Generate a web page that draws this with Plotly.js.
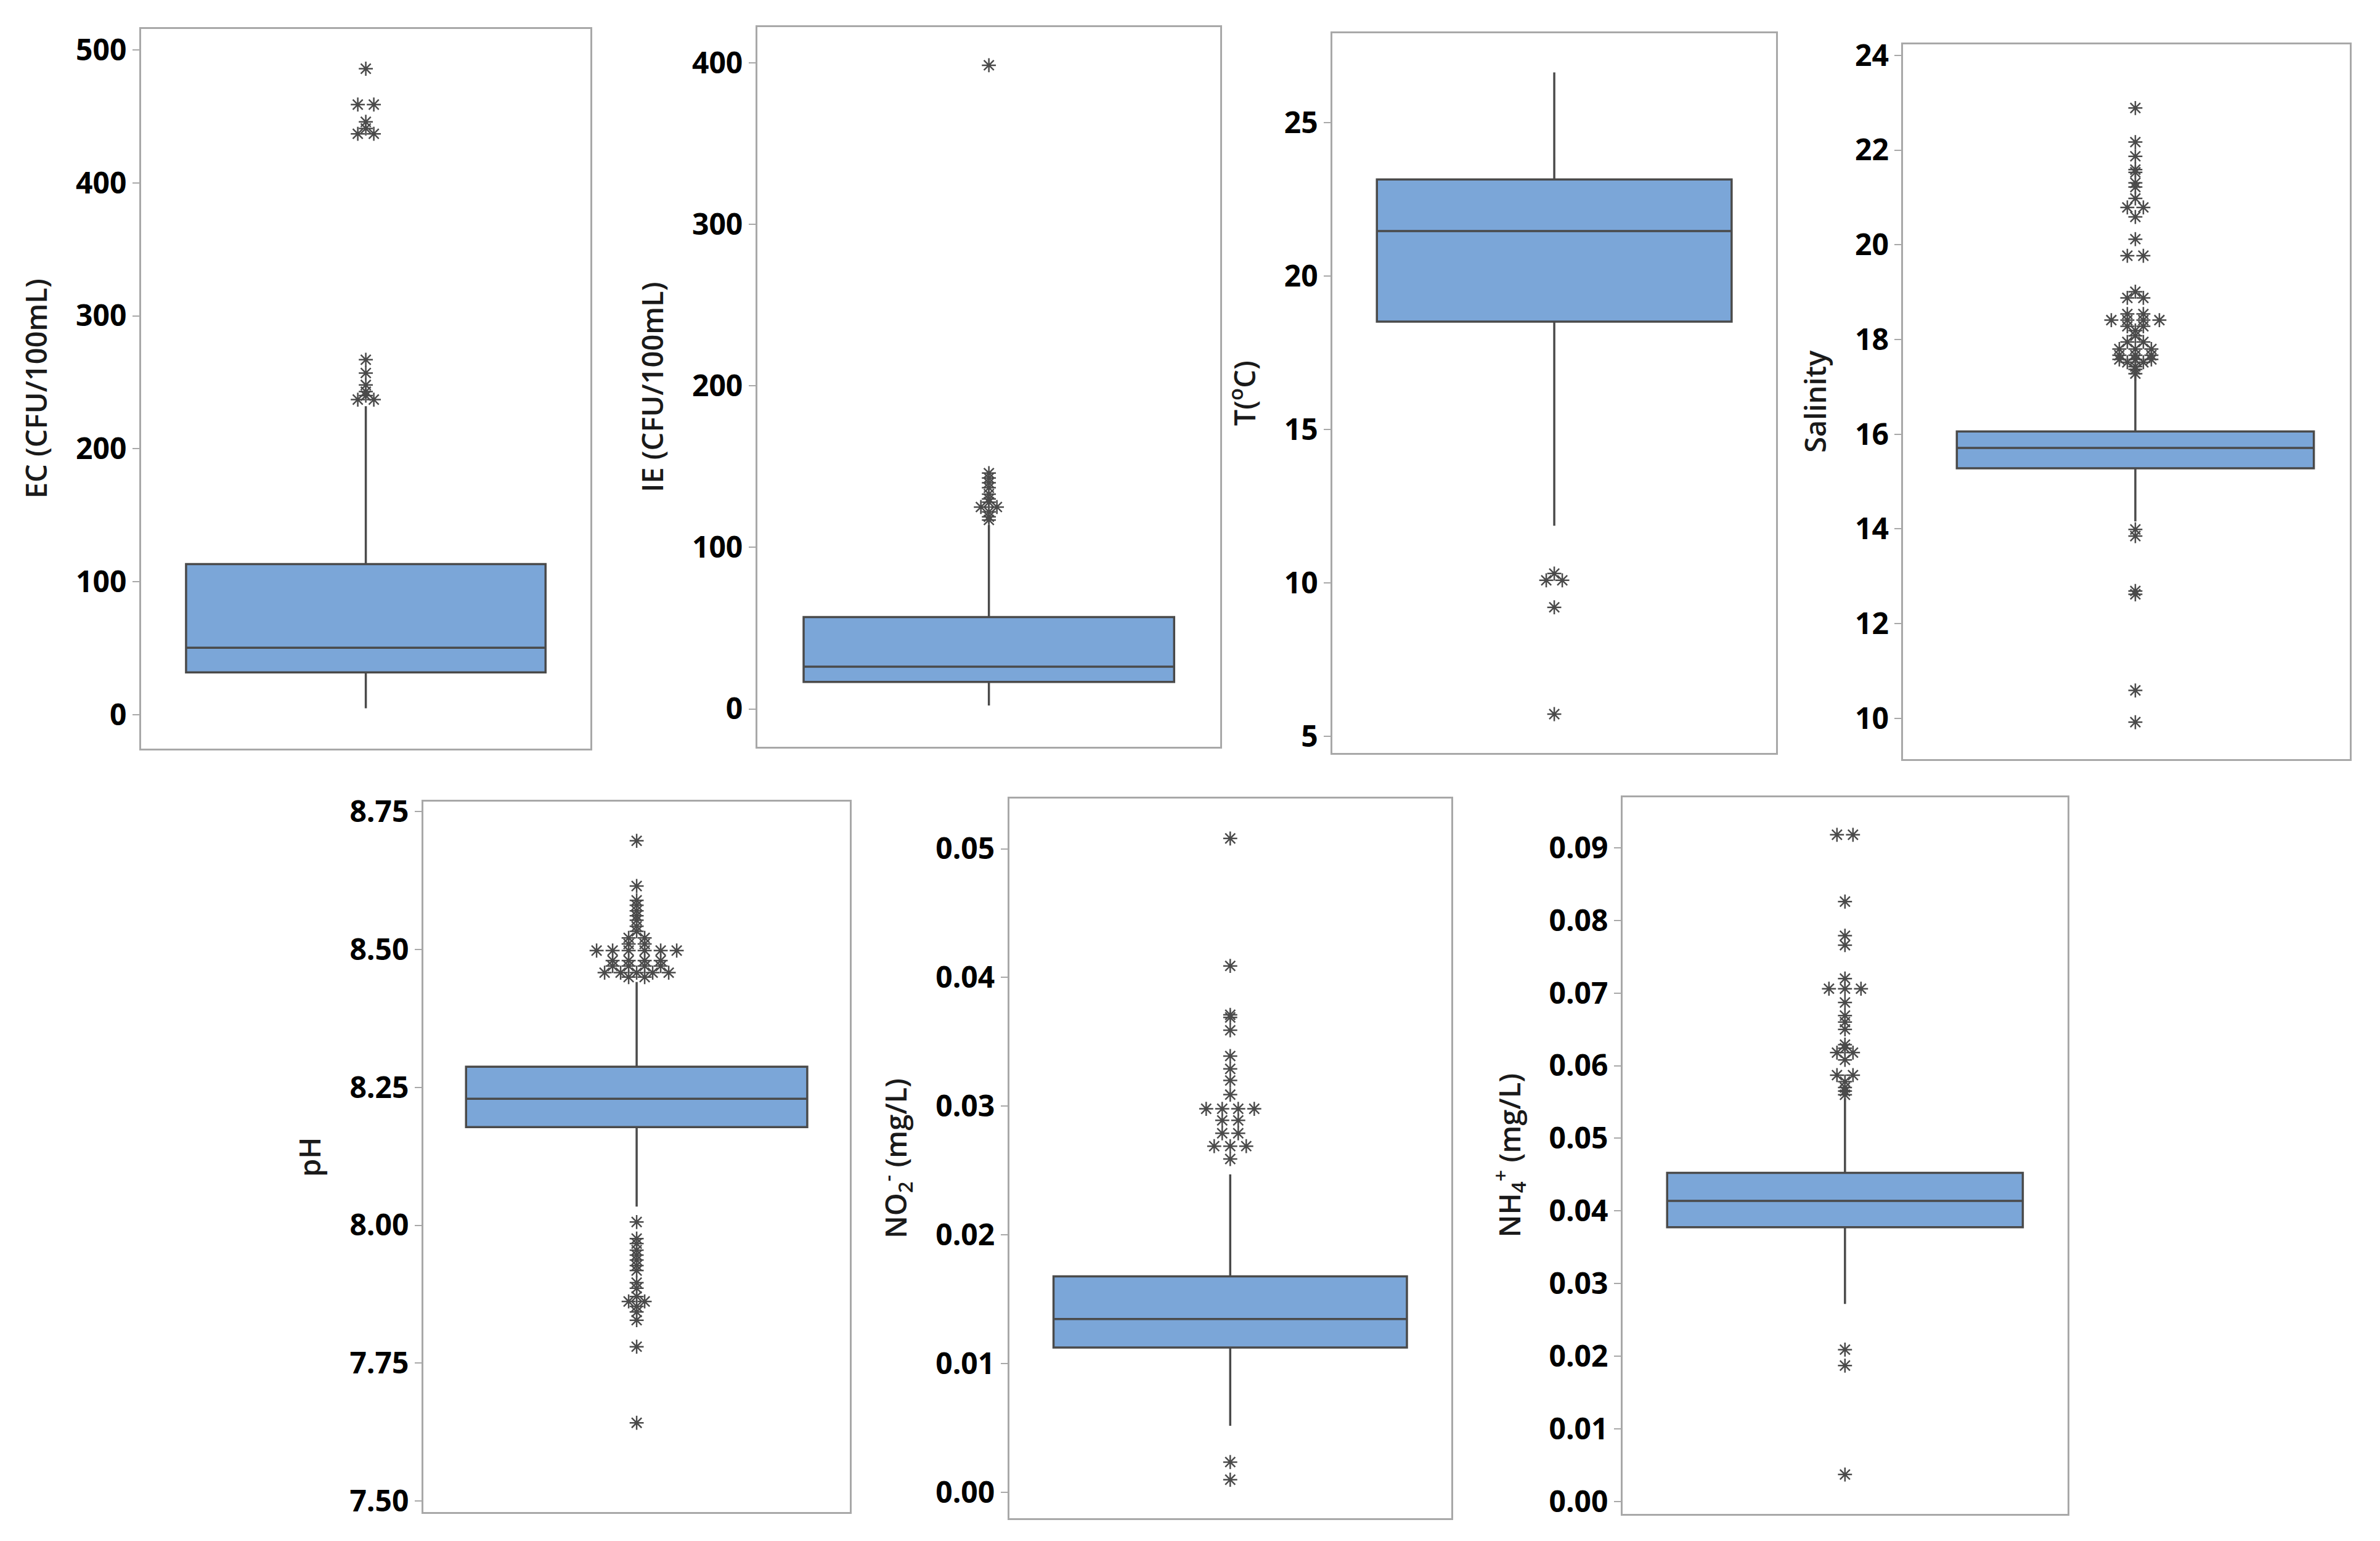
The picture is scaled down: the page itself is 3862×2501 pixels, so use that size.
<!DOCTYPE html>
<html><head><meta charset="utf-8">
<script src="https://cdn.plot.ly/plotly-3.0.1.min.js"></script>
<style>html,body{margin:0;padding:0;background:#fff}#chart{width:3862px;height:2501px}</style>
</head><body><div id="chart"></div>
<script>
// ---------- data ----------
const panelNames = ['EC', 'IE', 'T', 'Salinity', 'pH', 'NO2', 'NH4'];
const axisTitles = ['EC (CFU/100mL)', 'IE (CFU/100mL)', 'T(<sup>o</sup>C)', 'Salinity', 'pH',
                    'NO<sub>2</sub><sup>-</sup> (mg/L)', 'NH<sub>4</sub><sup>+</sup> (mg/L)'];
const q1Values         = [31.8, 16.7, 18.51, 15.28, 8.178, 0.01126, 0.03775];
const medianValues     = [50.3, 26.2, 21.46, 15.71, 8.2295, 0.01347, 0.04139];
const q3Values         = [113.2, 56.9, 23.14, 16.06, 8.2874, 0.01678, 0.04524];
const lowerWhiskers    = [4.8, 2.1, 11.86, 14.16, 8.034, 0.00518, 0.0272];
const upperWhiskers    = [232, 113.8, 26.63, 17.24, 8.441, 0.0247, 0.0555];

const outliersEC = [486, 459, 459, 446, 441, 437, 437, 267, 257, 248, 243, 240, 237, 237];
const outliersIE = [398.5, 146, 143, 140, 137, 133, 130, 128, 125, 125, 122, 119, 117];
const outliersT = [10.3, 10.08, 10.08, 9.2, 5.72];
const outliersSalinity = [22.89, 22.17, 21.87, 21.59, 21.53, 21.31, 21.22, 20.98, 20.79, 20.79, 20.59,
  20.12, 19.77, 19.77, 19.01, 18.88, 18.88, 18.54, 18.54, 18.41, 18.41, 18.41, 18.41,
  18.28, 18.28, 18.19, 18.08, 17.95, 17.95, 17.8, 17.8, 17.8, 17.67, 17.67, 17.67,
  17.58, 17.58, 17.58, 17.52, 17.52, 17.43, 17.37, 17.28,
  13.99, 13.85, 12.69, 12.62, 10.59, 9.92];
const outliersPH = [8.697, 8.615, 8.589, 8.580, 8.570, 8.561, 8.553, 8.542, 8.533, 8.521, 8.521,
  8.510, 8.510, 8.498, 8.498, 8.498, 8.498, 8.498, 8.498, 8.480, 8.480, 8.480, 8.480,
  8.470, 8.470, 8.470, 8.470, 8.458, 8.458, 8.458, 8.458, 8.458, 8.450, 8.450,
  8.006, 7.976, 7.967, 7.955, 7.946, 7.937, 7.927, 7.918, 7.896, 7.886, 7.871,
  7.862, 7.862, 7.853, 7.843, 7.828, 7.780, 7.642];
const outliersNO2 = [0.0508, 0.0409, 0.0371, 0.0369, 0.0359, 0.0339, 0.0329, 0.0320, 0.0309,
  0.0298, 0.0298, 0.0298, 0.0298, 0.0289, 0.0289, 0.0279, 0.0279, 0.0269, 0.0269, 0.0269,
  0.0259, 0.00236, 0.00099];
const outliersNH4 = [0.0918, 0.0918, 0.0826, 0.0779, 0.0766, 0.0720, 0.0706, 0.0706, 0.0706,
  0.0687, 0.0669, 0.0660, 0.0650, 0.0629, 0.0624, 0.0618, 0.0618, 0.0608, 0.0587, 0.0587,
  0.0578, 0.0570, 0.0565, 0.0560, 0.0209, 0.0187, 0.0037];
const outlierLists = [outliersEC, outliersIE, outliersT, outliersSalinity, outliersPH, outliersNO2, outliersNH4];

// ---------- layout config ----------
const W = 3862, H = 2501;
const xDomains = [[0.0593, 0.2481], [0.3182, 0.5128], [0.5599, 0.7462], [0.7997, 0.9872],
                  [0.1779, 0.3571], [0.4241, 0.6097], [0.6818, 0.8686]];
const yDomains = [[0.5143, 0.9813], [0.5153, 0.9823], [0.5113, 0.9783], [0.5074, 0.9714],
                  [0.0187, 0.4798], [0.0148, 0.4818], [0.0177, 0.4828]];
const yRanges = [[-25.5, 516], [-23.5, 422], [4.45, 27.9], [9.14, 24.24],
                 [7.48, 8.768], [-0.002, 0.0539], [-0.0017, 0.097]];
const yDticks = [100, 100, 5, 2, 0.25, 0.01, 0.01];
const yTick0 = [0, 0, 5, 10, 7.5, 0, 0];
const yFormats = ['', '', '', '', '.2f', '.2f', '.2f'];
const xRanges = [[-0.5, 0.5], [-0.5, 0.5], [-0.5, 0.5], [-0.52, 0.48],
                 [-0.5, 0.5], [-0.5, 0.5], [-0.5, 0.5]];
const boxWidth = 0.8;

const FONT = 'Open Sans, Noto Sans, sans-serif';
const frameColor = '#a8a8a8';
const darkLine = '#4a4a4a';
const boxFill = 'rgb(123,166,216)';

const data = [];
const layout = {
  width: W, height: H,
  margin: {l: 0, r: 0, t: 0, b: 0},
  paper_bgcolor: '#ffffff', plot_bgcolor: '#ffffff',
  showlegend: false
};

panelNames.forEach((name, i) => {
  const sfx = i === 0 ? '' : String(i + 1);
  const xa = 'x' + sfx, ya = 'y' + sfx;
  data.push({
    type: 'box', name: name, x: [0],
    q1: [q1Values[i]], median: [medianValues[i]], q3: [q3Values[i]],
    lowerfence: [lowerWhiskers[i]], upperfence: [upperWhiskers[i]],
    width: boxWidth, whiskerwidth: 0, boxpoints: false,
    fillcolor: boxFill, line: {color: darkLine, width: 3.5},
    xaxis: xa, yaxis: ya, hoverinfo: 'skip'
  });
  // spread equal outliers side by side (as Minitab does)
  const pxW = (xDomains[i][1] - xDomains[i][0]) * W;
  const step = 26 / pxW * (xRanges[i][1] - xRanges[i][0]);
  const counts = {};
  outlierLists[i].forEach(v => { counts[v] = (counts[v] || 0) + 1; });
  const seen = {};
  const ox = [], oy = [];
  outlierLists[i].forEach(v => {
    const n = counts[v];
    const k = seen[v] || 0;
    seen[v] = k + 1;
    ox.push((k - (n - 1) / 2) * step);
    oy.push(v);
  });
  data.push({
    type: 'scatter', mode: 'markers', x: ox, y: oy, xaxis: xa, yaxis: ya,
    marker: {symbol: 'asterisk-open', size: 19, color: darkLine, line: {color: darkLine, width: 2.5}},
    hoverinfo: 'y'
  });
  layout['xaxis' + sfx] = {
    domain: xDomains[i], range: xRanges[i], anchor: ya,
    showline: true, mirror: true, linecolor: frameColor, linewidth: 3,
    ticks: '', showticklabels: false, showgrid: false, zeroline: false
  };
  layout['yaxis' + sfx] = {
    domain: yDomains[i], range: yRanges[i], anchor: xa,
    tick0: yTick0[i], dtick: yDticks[i], tickformat: yFormats[i],
    ticks: 'outside', ticklen: 11, tickwidth: 2, tickcolor: frameColor,
    showline: true, mirror: true, linecolor: frameColor, linewidth: 3,
    showgrid: false, zeroline: false, automargin: false,
    tickfont: {family: FONT, size: 48, color: '#000', weight: 700},
    title: {text: axisTitles[i], standoff: 32, font: {family: FONT, size: 47, color: '#1a1a1a', weight: 600}}
  };
});

Plotly.newPlot('chart', data, layout, {staticPlot: true});
</script></body></html>
